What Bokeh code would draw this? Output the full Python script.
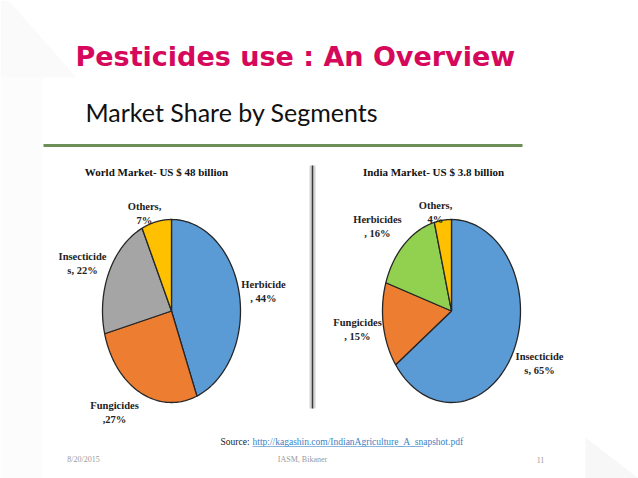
import numpy as np
from bokeh.plotting import figure
from bokeh.models import Range1d, ColumnDataSource
from bokeh.core.properties import value
from bokeh.embed import file_html
from bokeh.resources import INLINE

# ---- data ----
world_segments = ["Herbicide", "Fungicides", "Insecticides", "Others"]
world_shares = [44, 27, 22, 7]
world_labels = ["Herbicide\n, 44%", "Fungicides\n,27%", "Insecticide\ns, 22%", "Others,\n7%"]

india_segments = ["Insecticides", "Fungicides", "Herbicides", "Others"]
india_shares = [65, 15, 16, 4]
india_labels = ["Insecticide\ns, 65%", "Fungicides\n, 15%", "Herbicides\n, 16%", "Others,\n4%"]

world_title = "World Market- US $ 48 billion"
india_title = "India Market- US $ 3.8 billion"

# ---- layout / style ----
W, H = 638, 478
world_colors = ["#5B9BD5", "#ED7D31", "#A5A5A5", "#FFC000"]
india_colors = ["#5B9BD5", "#ED7D31", "#92D050", "#FFC000"]
world_center, india_center = (171, 310.5), (451, 310.5)
RX, RY = 69, 91.5
world_label_pos = [(263, 291), (114, 412), (82, 263), (144, 213)]
india_label_pos = [(539, 363), (357, 329), (377, 226), (435, 212)]

p = figure(width=W, height=H, output_backend="svg", toolbar_location=None,
           x_range=Range1d(0, W), y_range=Range1d(H, 0), min_border=0,
           background_fill_color="white", border_fill_color="white")
p.axis.visible = False
p.grid.visible = False
p.outline_line_color = None

# faint slide decorations
p.patch([0, 8, 76, 0], [0, 0, 77, 77], fill_color="#fafafa", line_color=None)
p.patch([585, 638, 585], [437, 478, 478], fill_color="#f7f7f7", line_color=None)
p.patch([0, 42, 42, 0], [77, 77, 478, 478], fill_color="#fcfcfc", line_color=None)

# title
p.text(x=[75], y=[56], text=["Pesticides use : An Overview"], text_color="#D5085B",
       text_font=value("DejaVu Sans"), text_font_style="bold", text_font_size="27px",
       text_baseline="middle")

# image heading
p.text(x=[85], y=[111], text=["Market Share by Segments"], text_color="#111111",
       text_font=value("Lato"), text_font_size="25px",
       text_baseline="middle")
p.segment(x0=[43], y0=[145], x1=[522], y1=[145], line_color="#6E8E58", line_width=3)

# divider
p.segment(x0=[312], y0=[165], x1=[312], y1=[408], line_color="#d4d4d4", line_width=6)
p.segment(x0=[312], y0=[165], x1=[312], y1=[408], line_color="#3a3a3a", line_width=1.5)


def slices(shares, center):
    cx, cy = center
    total = float(sum(shares))
    cum = 0.0
    xs, ys = [], []
    for v in shares:
        t = np.linspace(2 * np.pi * cum / total, 2 * np.pi * (cum + v) / total, 80)
        xs.append([cx] + list(cx + RX * np.sin(t)) + [cx])
        ys.append([cy] + list(cy - RY * np.cos(t)) + [cy])
        cum += v
    return xs, ys


for shares, names, labels, colors, center, lpos, title, tx in [
    (world_shares, world_segments, world_labels, world_colors, world_center, world_label_pos, world_title, 156),
    (india_shares, india_segments, india_labels, india_colors, india_center, india_label_pos, india_title, 433),
]:
    xs, ys = slices(shares, center)
    src = ColumnDataSource(dict(xs=xs, ys=ys, color=colors, name=names))
    p.patches("xs", "ys", source=src, fill_color="color", line_color="#262626", line_width=1.3)
    p.text(x=[a for a, b in lpos], y=[b for a, b in lpos], text=labels,
           text_font=value("Liberation Serif"), text_font_style="bold", text_font_size="10.5px",
           text_color="#222222", text_align="center", text_baseline="middle", text_line_height=1.25)
    p.text(x=[tx], y=[171], text=[title], text_font=value("Liberation Serif"),
           text_font_style="bold", text_font_size="11px", text_color="#111111",
           text_align="center", text_baseline="middle")

# source
p.text(x=[220], y=[441], text=["Source:"], text_font=value("Liberation Serif"),
       text_font_size="9.5px", text_color="#222222", text_baseline="middle")
p.text(x=[252], y=[441], text=["http://kagashin.com/IndianAgriculture_A_snapshot.pdf"],
       text_font=value("Liberation Serif"), text_font_size="9.5px", text_color="#3B7FC4",
       text_baseline="middle")
p.segment(x0=[252], y0=[446], x1=[423], y1=[446], line_color="#6FA3D8", line_width=0.8)

# footer
p.text(x=[83, 302, 540], y=[459, 459, 459], text=["8/20/2015", "IASM, Bikaner", "11"],
       text_font=value("Liberation Serif"), text_font_size="8px", text_color="#9a9a9a",
       text_align="center", text_baseline="middle")

open("out.html", "w").write(file_html(p, INLINE))
